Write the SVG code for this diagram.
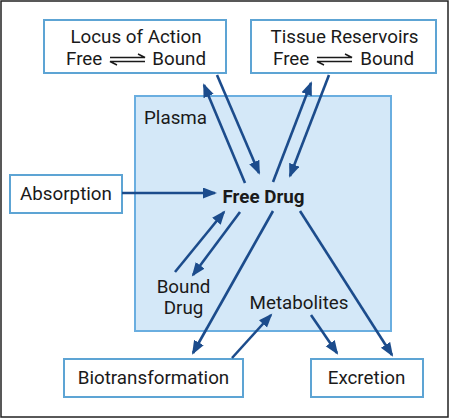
<svg xmlns="http://www.w3.org/2000/svg" width="450" height="419" viewBox="0 0 450 419">
<defs>
<style>
.box{fill:#fff;stroke:#5da4d4;stroke-width:2}
.t{font-family:Roboto,"Liberation Sans",sans-serif;font-size:18.8px;fill:#1a1a1a}
.b{font-weight:bold}
.c{stroke:#1c4c8c;stroke-width:2.6;fill:none;marker-end:url(#ah)}
.eq{stroke:#1a1a1a;stroke-width:1.4;fill:none}
</style>
<marker id="ah" markerUnits="userSpaceOnUse" markerWidth="16" markerHeight="12" refX="12" refY="5.5" orient="auto">
<path d="M0,0 L14,5.5 L0,11 z" fill="#1c4c8c"/>
</marker>
</defs>
<rect x="1" y="1" width="447" height="416" fill="#fff" stroke="#222" stroke-width="1.5"/>
<g id="plasma">
<rect x="135" y="96" width="256" height="235" fill="#d4e8f8" stroke="#6aaee0" stroke-width="2"/>
<text class="t" x="144" y="124">Plasma</text>
</g>
<g id="locus">
<rect class="box" x="44" y="20" width="182" height="53"/>
<text class="t" x="136" y="43" text-anchor="middle">Locus of Action</text>
<text class="t" x="66" y="65">Free</text>
<text class="t" x="206" y="65" text-anchor="end">Bound</text>
<path class="eq" d="M110,57.5 H145 L138,54"/>
<path class="eq" d="M145,61.5 H110 L117,65"/>
</g>
<g id="tissue">
<rect class="box" x="251" y="20" width="185" height="53"/>
<text class="t" x="344.5" y="43" text-anchor="middle">Tissue Reservoirs</text>
<text class="t" x="273" y="65">Free</text>
<text class="t" x="414" y="65" text-anchor="end">Bound</text>
<path class="eq" d="M317,57.5 H352 L345,54"/>
<path class="eq" d="M352,61.5 H317 L324,65"/>
</g>
<g id="absorption">
<rect class="box" x="10" y="175" width="112" height="38"/>
<text class="t" x="66" y="200" text-anchor="middle">Absorption</text>
</g>
<g id="freedrug">
<text class="t b" x="263.5" y="203" text-anchor="middle">Free Drug</text>
</g>
<g id="bounddrug">
<text class="t" x="183.5" y="293" text-anchor="middle">Bound</text>
<text class="t" x="183.5" y="314" text-anchor="middle">Drug</text>
</g>
<g id="metabolites">
<text class="t" x="299" y="309" text-anchor="middle">Metabolites</text>
</g>
<g id="biotransformation">
<rect class="box" x="64" y="359" width="179" height="38"/>
<text class="t" x="153.5" y="384" text-anchor="middle">Biotransformation</text>
</g>
<g id="excretion">
<rect class="box" x="311" y="359" width="112" height="38"/>
<text class="t" x="366.5" y="384" text-anchor="middle">Excretion</text>
</g>
<g id="connectors">
<line class="c" x1="122" y1="193" x2="215" y2="193"/>
<line class="c" x1="245" y1="183" x2="204" y2="85"/>
<line class="c" x1="217" y1="75" x2="259" y2="173"/>
<line class="c" x1="273" y1="182" x2="311" y2="83"/>
<line class="c" x1="329" y1="75" x2="290" y2="176"/>
<line class="c" x1="175" y1="272" x2="224" y2="212"/>
<line class="c" x1="240" y1="212" x2="193" y2="275"/>
<line class="c" x1="273" y1="211" x2="193" y2="353"/>
<line class="c" x1="232" y1="358" x2="271" y2="315"/>
<line class="c" x1="311" y1="315" x2="337" y2="353"/>
<line class="c" x1="300" y1="211" x2="392" y2="355"/>
</g>
</svg>
